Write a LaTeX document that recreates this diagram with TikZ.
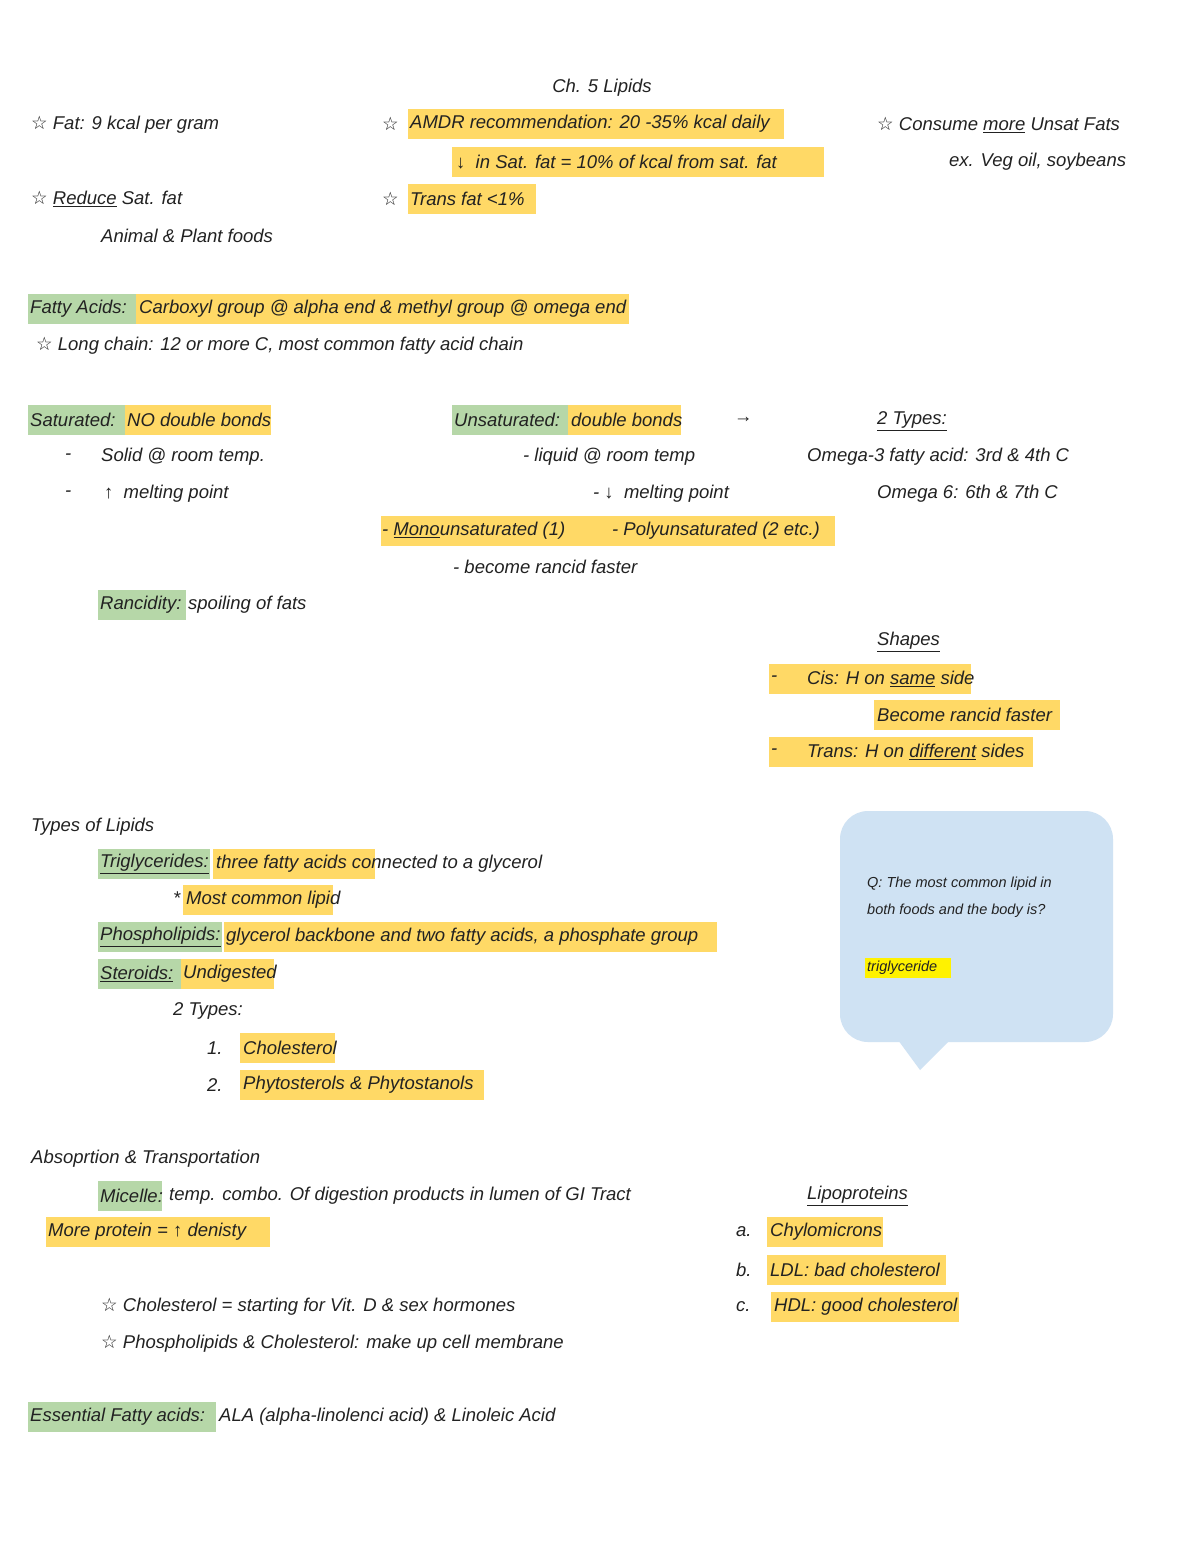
\documentclass[tikz,border=0pt]{standalone}
\usepackage{fontspec}
\setmainfont{Liberation Sans}
\newfontfamily\symf{DejaVu Sans}
\definecolor{hy}{HTML}{FFD966}
\definecolor{hg}{HTML}{B6D7A8}
\definecolor{cb}{HTML}{CFE2F3}
\definecolor{ink}{HTML}{222222}
\newcommand{\st}{{\symf ☆}}
\begin{document}
\begin{tikzpicture}[x=1pt,y=-1pt,
  txt/.style={anchor=west,inner sep=1pt,font=\fontsize{18.5}{21}\selectfont\itshape,text=ink},
  sml/.style={txt,font=\fontsize{14.5}{17}\selectfont\itshape}]
\useasboundingbox (0,0) rectangle (1200,1553);
\fill[white] (0,0) rectangle (1200,1553);
% highlights
\fill[hy] (408,109) rectangle (784,139);
\fill[hy] (452,147) rectangle (824,177);
\fill[hy] (408,184) rectangle (536,214);
\fill[hg] (28,294) rectangle (136,324);
\fill[hy] (136,294) rectangle (629,324);
\fill[hg] (28,405) rectangle (125,435);
\fill[hy] (125,405) rectangle (271,435);
\fill[hg] (452,405) rectangle (568,435);
\fill[hy] (568,405) rectangle (681,435);
\fill[hy] (381,516) rectangle (835,546);
\fill[hg] (98,590) rectangle (186,620);
\fill[hy] (769,664) rectangle (971,694);
\fill[hy] (874,700) rectangle (1060,730);
\fill[hy] (769,737) rectangle (1033,767);
\fill[hg] (98,849) rectangle (210,879);
\fill[hy] (213,849) rectangle (375,879);
\fill[hy] (183,885) rectangle (333,915);
\fill[hg] (98,922) rectangle (222,952);
\fill[hy] (224,922) rectangle (717,952);
\fill[hg] (98,959) rectangle (181,989);
\fill[hy] (181,959) rectangle (274,989);
\fill[hy] (240,1033) rectangle (335,1063);
\fill[hy] (240,1070) rectangle (484,1100);
\fill[hg] (98,1181) rectangle (162,1211);
\fill[hy] (46,1217) rectangle (270,1247);
\fill[hy] (767,1217) rectangle (883,1247);
\fill[hy] (767,1255) rectangle (946,1285);
\fill[hy] (771,1292) rectangle (959,1322);
\fill[hg] (28,1402) rectangle (216,1432);
% callout
\fill[cb,rounded corners=28pt] (840,811) rectangle (1113,1042);
\fill[cb] (898,1040) -- (920,1070) -- (950,1040) -- cycle;
\fill[yellow] (865,958) rectangle (951,978);
% texts
\node[txt,anchor=center] (title) at (602,88) {Ch. 5 Lipids};
\node[txt] (fat) at (30,125) {\st\ Fat: 9 kcal per gram};
\node[txt] (s1) at (381,124) {\st};
\node[txt] (amdr) at (409,124) {AMDR recommendation: 20 -35\% kcal daily};
\node[txt] (sat10) at (455,162) {↓\ \ in Sat. fat = 10\% of kcal from sat. fat};
\node[txt] (cons) at (876,125) {\st\ Consume \underline{more} Unsat Fats};
\node[txt] (ex) at (948,162) {ex. Veg oil, soybeans};
\node[txt] (red) at (30,199) {\st\ \underline{Reduce} Sat. fat};
\node[txt] (s2) at (381,199) {\st};
\node[txt] (trans) at (409,199) {Trans fat <1\%};
\node[txt] (anim) at (100,236) {Animal \& Plant foods};
\node[txt] (fa) at (29,309) {Fatty Acids:};
\node[txt] (fa2) at (138,309) {Carboxyl group @ alpha end \& methyl group @ omega end};
\node[txt] (long) at (35,346) {\st\ Long chain: 12 or more C, most common fatty acid chain};
\node[txt] (sat) at (29,420) {Saturated:};
\node[txt] (sat2) at (126,420) {NO double bonds};
\node[txt] (d1) at (64,457) {-};
\node[txt] (solid) at (100,457) {Solid @ room temp.};
\node[txt] (d2) at (64,494) {-};
\node[txt] (mp1) at (103,494) {↑\ \ melting point};
\node[txt] (uns) at (453,420) {Unsaturated:};
\node[txt] (uns2) at (570,420) {double bonds};
\node[txt] (arr) at (733,420) {→};
\node[txt] (types2) at (876,421) {\underline{2 Types:}};
\node[txt] (liq) at (522,457) {- liquid @ room temp};
\node[txt] (om3) at (806,457) {Omega-3 fatty acid: 3rd \& 4th C};
\node[txt] (mp2) at (592,494) {- ↓\ \ melting point};
\node[txt] (om6) at (876,494) {Omega 6: 6th \& 7th C};
\node[txt] (mono) at (381,531) {- \underline{Mono}unsaturated (1)};
\node[txt] (poly) at (611,531) {- Polyunsaturated (2 etc.)};
\node[txt] (ranc) at (452,567) {- become rancid faster};
\node[txt] (rancid) at (99,605) {Rancidity:};
\node[txt] (rancid2) at (187,605) {spoiling of fats};
\node[txt] (shapes) at (876,642) {\underline{Shapes}};
\node[txt] (cd1) at (770,679) {-};
\node[txt] (cis) at (806,679) {Cis: H on \underline{same} side};
\node[txt] (brf) at (876,715) {Become rancid faster};
\node[txt] (cd2) at (770,752) {-};
\node[txt] (tr) at (806,752) {Trans: H on \underline{different} sides};
\node[txt] (tol) at (30,827) {Types of Lipids};
\node[txt] (tri) at (99,864) {\underline{Triglycerides:}};
\node[txt] (tri2) at (215,864) {three fatty acids connected to a glycerol};
\node[txt] (ast) at (172,898) {*};
\node[txt] (mcl) at (185,900) {Most common lipid};
\node[txt] (pho) at (99,937) {\underline{Phospholipids:}};
\node[txt] (pho2) at (225,937) {glycerol backbone and two fatty acids, a phosphate group};
\node[txt] (ster) at (99,974) {\underline{Steroids:}};
\node[txt] (ster2) at (182,974) {Undigested};
\node[txt] (t2) at (172,1011) {2 Types:};
\node[txt] (n1) at (206,1048) {1.};
\node[txt] (chol) at (242,1048) {Cholesterol};
\node[txt] (n2) at (206,1085) {2.};
\node[txt] (phy) at (242,1085) {Phytosterols \& Phytostanols};
\node[sml] (q1) at (866,884) {Q: The most common lipid in};
\node[sml] (q2) at (866,911) {both foods and the body is?};
\node[sml] (ans) at (866,968) {triglyceride};
\node[txt] (abs) at (30,1159) {Absoprtion \& Transportation};
\node[txt] (mic) at (99,1196) {Micelle:};
\node[txt] (mic2) at (168,1196) {temp. combo. Of digestion products in lumen of GI Tract};
\node[txt] (more) at (47,1232) {More protein =\ ↑\ denisty};
\node[txt] (lip) at (806,1196) {\underline{Lipoproteins}};
\node[txt] (la) at (735,1232) {a.};
\node[txt] (chy) at (769,1232) {Chylomicrons};
\node[txt] (lb) at (735,1270) {b.};
\node[txt] (ldl) at (769,1270) {LDL: bad cholesterol};
\node[txt] (lc) at (735,1307) {c.};
\node[txt] (hdl) at (773,1307) {HDL: good cholesterol};
\node[txt] (cs) at (100,1307) {\st\ Cholesterol = starting for Vit. D \& sex hormones};
\node[txt] (pc) at (100,1344) {\st\ Phospholipids \& Cholesterol: make up cell membrane};
\node[txt] (efa) at (29,1417) {Essential Fatty acids:};
\node[txt] (efa2) at (218,1417) {ALA (alpha-linolenci acid) \& Linoleic Acid};
\end{tikzpicture}
\end{document}
